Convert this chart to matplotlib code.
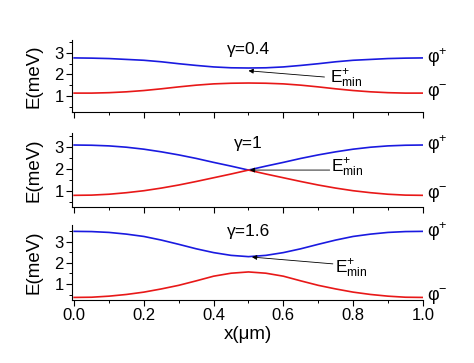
import numpy as np
import matplotlib
matplotlib.use('Agg')
import matplotlib.pyplot as plt
from matplotlib.ticker import MultipleLocator, FormatStrFormatter

plt.rcParams['font.family'] = ['Liberation Sans', 'DejaVu Sans']
plt.rcParams['mathtext.fontset'] = 'custom'
plt.rcParams['mathtext.rm'] = 'Liberation Sans'
plt.rcParams['mathtext.it'] = 'Liberation Sans:italic'

# x positions (um), symmetric curves
x = [0.0, 0.05, 0.1, 0.15, 0.2, 0.25, 0.3, 0.35, 0.4, 0.45, 0.5,
     0.55, 0.6, 0.65, 0.7, 0.75, 0.8, 0.85, 0.9, 0.95, 1.0]

gammas = ['0.4', '1', '1.6']

# half curves, 0 .. 0.5, mirrored below
up_half = [
    [2.77, 2.76, 2.74, 2.70, 2.66, 2.59, 2.50, 2.42, 2.35, 2.31, 2.30],
    [3.09, 3.08, 3.05, 2.99, 2.90, 2.78, 2.64, 2.48, 2.30, 2.13, 1.95],
    [3.48, 3.47, 3.43, 3.35, 3.24, 3.07, 2.87, 2.66, 2.48, 2.35, 2.29],
]
down_half = [
    [1.13, 1.13, 1.15, 1.19, 1.25, 1.33, 1.42, 1.50, 1.56, 1.59, 1.60],
    [0.80, 0.81, 0.85, 0.92, 1.01, 1.13, 1.27, 1.43, 1.60, 1.77, 1.95],
    [0.37, 0.38, 0.43, 0.51, 0.62, 0.77, 0.94, 1.15, 1.37, 1.51, 1.57],
]

def full(h):
    return h + h[-2::-1]

ylims = [(0.25, 3.6), (0.27, 3.64), (0.25, 3.78)]
gamma_y = [3.14, 3.14, 3.45]
# arrow head, tail and text anchor for E+min
heads = [(0.50, 2.17), (0.504, 1.95), (0.51, 2.27)]
tails = [(0.718, 1.88), (0.733, 1.95), (0.742, 1.95)]
texts = [(0.733, 1.60), (0.738, 1.86), (0.748, 1.52)]

fig = plt.figure(figsize=(4.74, 3.63), dpi=100)
boxes = [(0.152, 0.6915, 0.740, 0.198),
         (0.152, 0.4298, 0.740, 0.204),
         (0.152, 0.1736, 0.740, 0.2066)]

for i in range(3):
    ax = fig.add_axes(boxes[i])
    up = full(up_half[i])
    dn = full(down_half[i])
    ax.plot(x, up, color='#1a1ae0', lw=1.2)
    ax.plot(x, dn, color='#e81818', lw=1.2)

    ax.set_xlim(-0.006, 1.0)
    ax.set_ylim(*ylims[i])
    for s in ['top', 'right']:
        ax.spines[s].set_visible(False)
    for s in ['left', 'bottom']:
        ax.spines[s].set_linewidth(0.8)

    ax.xaxis.set_major_locator(MultipleLocator(0.2))
    ax.xaxis.set_minor_locator(MultipleLocator(0.1))
    ax.xaxis.set_major_formatter(FormatStrFormatter('%.1f'))
    ax.yaxis.set_major_locator(MultipleLocator(1))
    ax.yaxis.set_minor_locator(MultipleLocator(0.5))
    ax.tick_params(which='major', direction='out', length=4, width=0.8, labelsize=12, pad=2)
    ax.tick_params(which='minor', direction='out', length=2.5, width=0.7)
    if i < 2:
        ax.tick_params(axis='x', labelbottom=False)
    else:
        ax.set_xlabel('x(\u03bcm)', fontsize=13.5, labelpad=2)
    ax.set_ylabel('E(meV)', fontsize=13.5)
    ax.yaxis.set_label_coords(-0.085, 0.5)

    ax.text(0.5, gamma_y[i], '\u03b3=' + gammas[i], ha='center', va='center', fontsize=12.5)

    ax.annotate('', xy=heads[i], xytext=tails[i],
                arrowprops=dict(arrowstyle='-|>', color='k', lw=0.6,
                                mutation_scale=7, shrinkA=0, shrinkB=0))
    ax.text(texts[i][0], texts[i][1], r'$\mathregular{E^{+}_{min}}$',
            ha='left', va='baseline', fontsize=12.5)

    ax.text(1.012, up[-1], r'$\mathregular{\varphi^{+}}$', ha='left', va='center',
            fontsize=13, clip_on=False)
    ax.text(1.012, dn[-1], r'$\mathregular{\varphi^{-}}$', ha='left', va='center',
            fontsize=13, clip_on=False)

fig.savefig('out.png', dpi=100)
